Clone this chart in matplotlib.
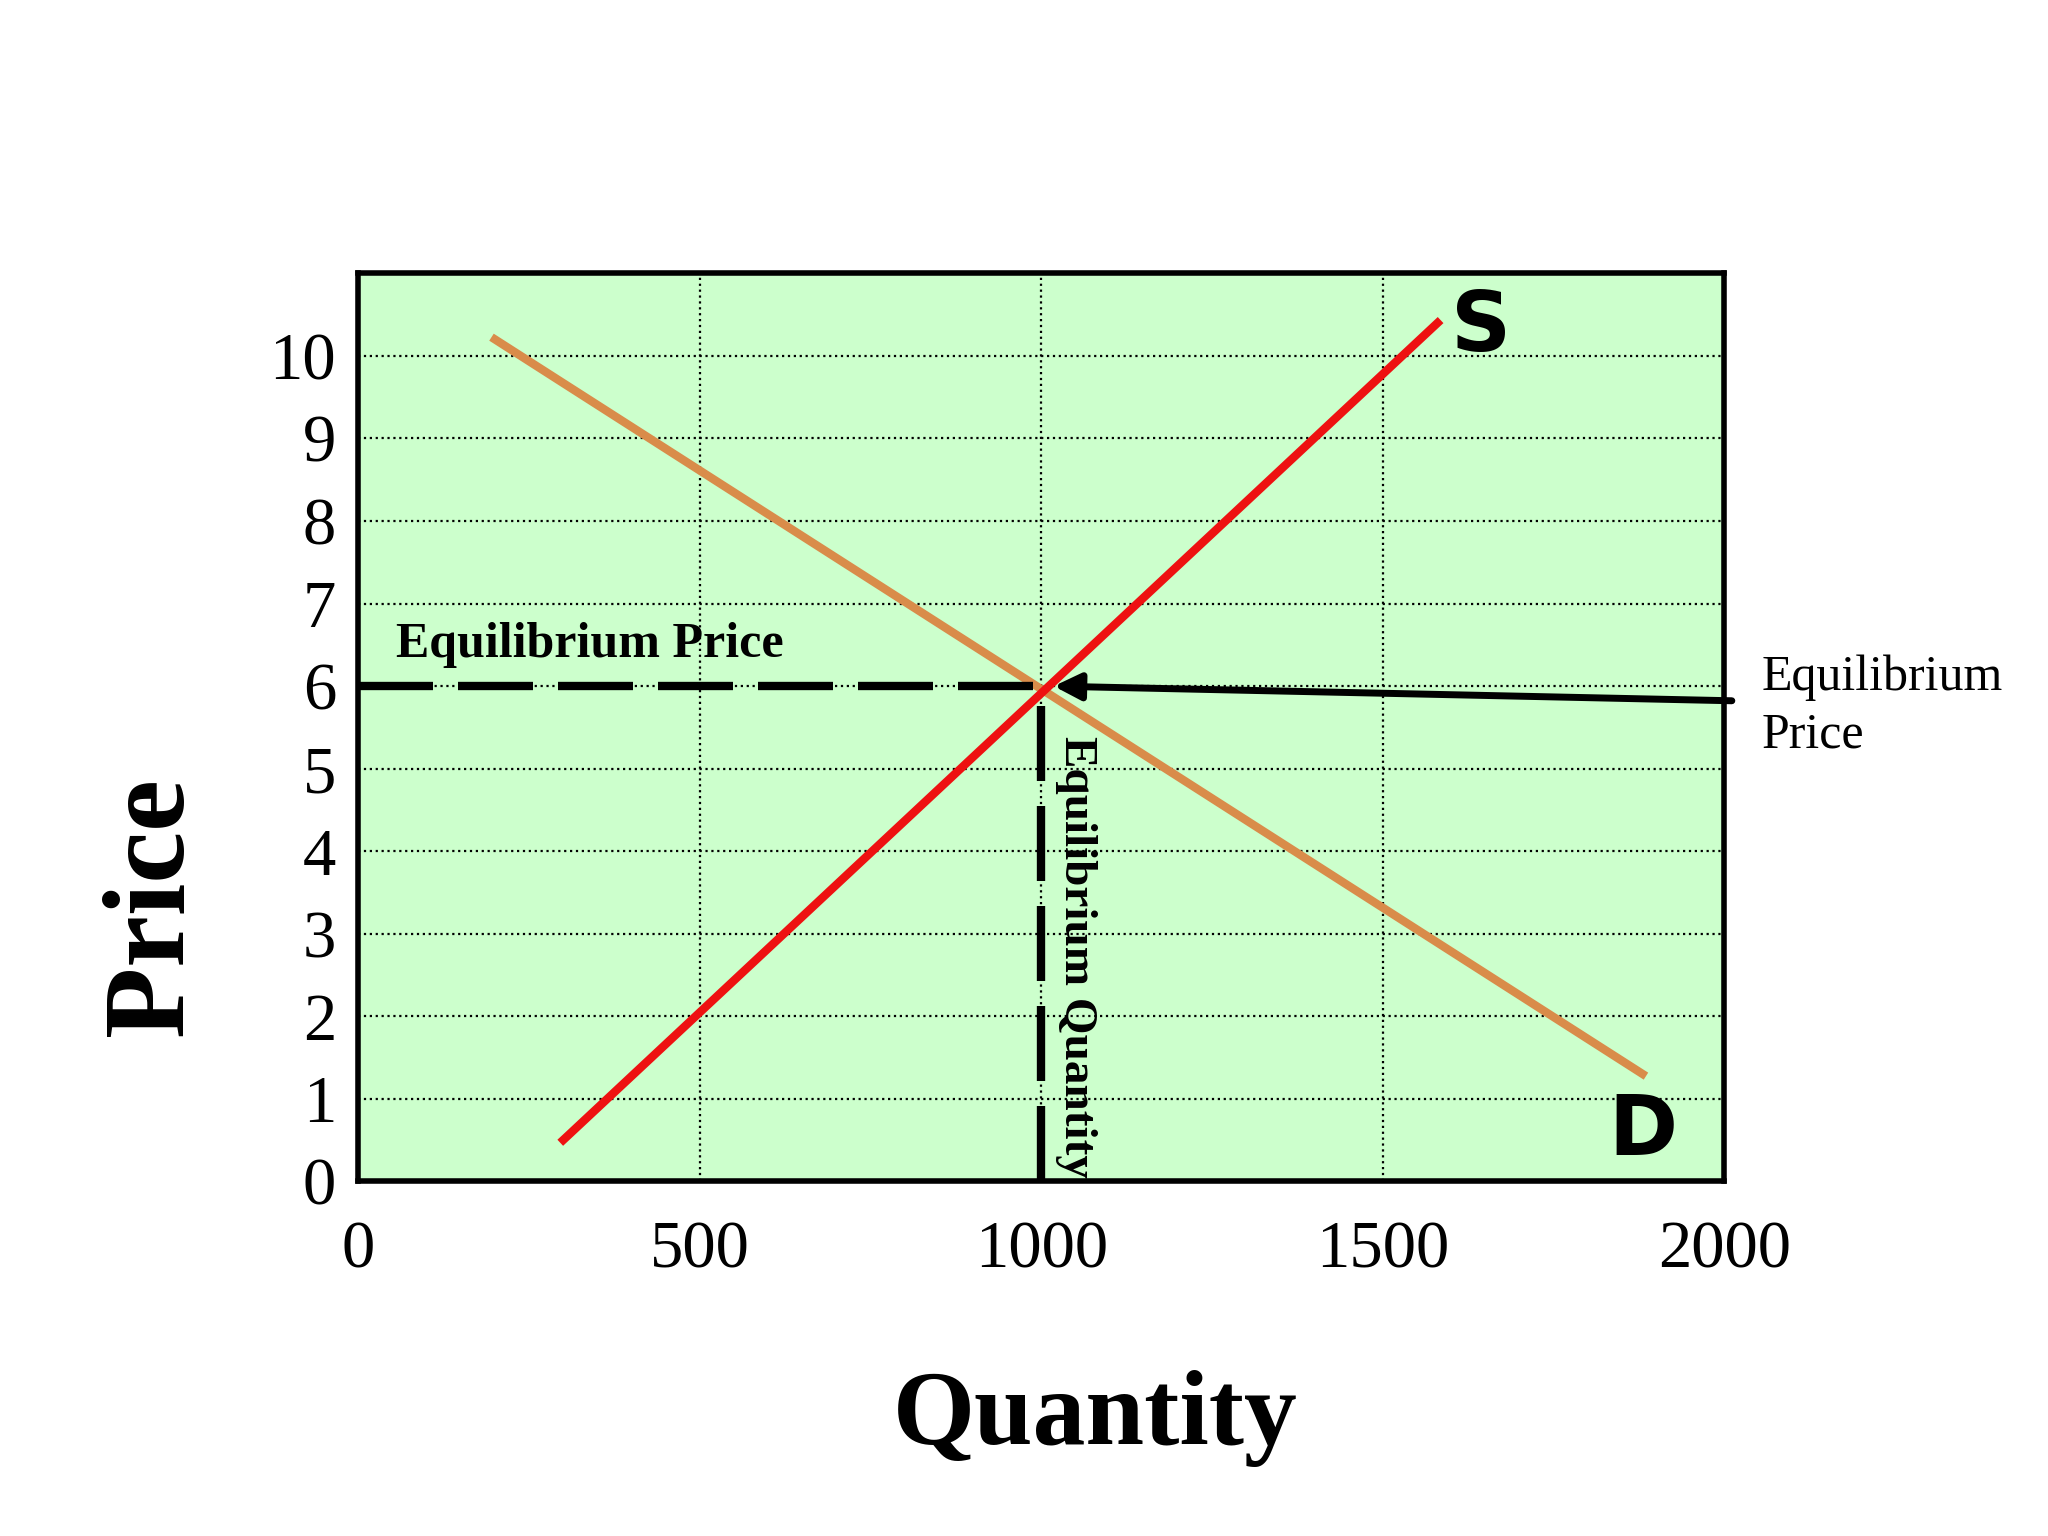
import matplotlib.pyplot as plt

supply_q = [300, 1580]
supply_p = [0.5, 10.4]
demand_q = [200, 1880]
demand_p = [10.2, 1.3]
eq_q, eq_p = 1000, 6
x_ticks = [0, 500, 1000, 1500, 2000]
y_ticks = list(range(0, 11))

plt.rcParams['font.family'] = ['Liberation Serif', 'DejaVu Serif']

fig = plt.figure(figsize=(10.24, 7.68), dpi=200)
ax = fig.add_axes([0.175, 0.231, 0.667, 0.591])
ax.set_facecolor('#ccffcc')
ax.set_xlim(0, 2000)
ax.set_ylim(0, 11)
ax.set_xticks(x_ticks)
ax.set_yticks(y_ticks)
ax.tick_params(length=0, labelsize=24, pad=8)
ax.tick_params(axis='x', pad=14)
ax.grid(True, color='black', linestyle=':', linewidth=0.8)
for s in ax.spines.values():
    s.set_linewidth(2)

ax.plot(demand_q, demand_p, color='#d98c4a', linewidth=3)
ax.plot(supply_q, supply_p, color='#ee1111', linewidth=3)

ax.plot([0, eq_q], [eq_p, eq_p], color='black', linewidth=3, dashes=(9, 3))
ax.plot([eq_q, eq_q], [0, eq_p], color='black', linewidth=3, dashes=(9, 3))

ax.text(55, 6.35, 'Equilibrium Price', fontsize=18, fontweight='bold')
ax.text(1020, 5.4, 'Equilibrium Quantity', fontsize=17, fontweight='bold',
        rotation=-90, va='top', ha='left')

ax.text(1600, 10.35, 'S', fontsize=30, fontweight='heavy', family='DejaVu Sans',
        va='center', ha='left')
ax.text(1830, 0.6, 'D', fontsize=30, fontweight='heavy', family='DejaVu Sans',
        va='center', ha='left')

ax.annotate('', xy=(1010, eq_p), xytext=(2019, 5.82),
            arrowprops=dict(arrowstyle='-|>', color='black', lw=2.5, mutation_scale=20),
            annotation_clip=False)
fig.text(0.86, 0.54, 'Equilibrium\nPrice', fontsize=18, va='center', linespacing=1.3)

fig.text(0.535, 0.06, 'Quantity', fontsize=38, fontweight='bold', ha='center')
fig.text(0.075, 0.41, 'Price', fontsize=42, fontweight='bold', rotation=90,
         va='center', ha='center')

fig.savefig('out.png', dpi=200)
